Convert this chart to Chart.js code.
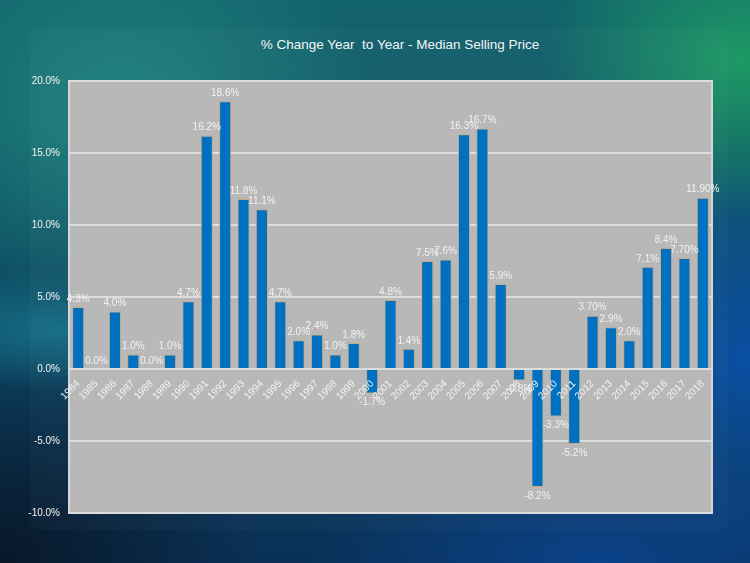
<!DOCTYPE html>
<html lang="en">
<head>
  <meta charset="UTF-8">
  <title>% Change Year to Year - Median Selling Price</title>
  <script src="https://cdn.jsdelivr.net/npm/chart.js"></script>
  <style>
    html, body { margin: 0; padding: 0; }
    body {
      width: 750px; height: 563px; overflow: hidden; position: relative;
      background:
        radial-gradient(ellipse 180px 60px at 60px 330px, rgba(30,150,170,0.5), rgba(30,150,170,0) 100%),
        radial-gradient(ellipse 260px 200px at 120px 110px, rgba(35,140,130,0.8), rgba(35,140,130,0) 100%),
        radial-gradient(ellipse 200px 160px at 740px 60px, rgba(30,160,100,0.9), rgba(30,160,100,0) 100%),
        radial-gradient(ellipse 160px 220px at 745px 360px, rgba(10,80,170,0.9), rgba(10,80,170,0) 100%),
        radial-gradient(ellipse 260px 200px at 0px 560px, rgba(8,22,38,0.95), rgba(8,22,38,0) 100%),
        radial-gradient(ellipse 300px 120px at 600px 560px, rgba(10,70,150,0.8), rgba(10,70,150,0) 100%),
        linear-gradient(180deg, #12626c 0%, #0e4f64 45%, #0b3a5a 75%, #0a3056 100%);
    }
    #frame {
      position: absolute; left: 30px; top: 28px; width: 698px; height: 502px;
      border-radius: 10px; background: rgba(255,255,255,0.025);
    }
    #title {
      position: absolute; left: 0; top: 37px; width: 800px; text-align: center;
      color: #f4f4f4; font: 13.5px "Liberation Sans", Arial, sans-serif;
    }
    canvas { position: absolute; left: 0; top: 0; }
  </style>
</head>
<body>
  <div id="frame"></div>
  <div id="title">% Change Year&nbsp; to Year - Median Selling Price</div>
  <canvas id="myChart" width="750" height="563"></canvas>

<script>
  const years = ['1984','1985','1986','1987','1988','1989','1990','1991','1992','1993',
    '1994','1995','1996','1997','1998','1999','2000','2001','2002','2003','2004','2005',
    '2006','2007','2008','2009','2010','2011','2012','2013','2014','2015','2016','2017','2018'];
  const changes = [4.3, 0.0, 4.0, 1.0, 0.0, 1.0, 4.7, 16.2, 18.6, 11.8,
    11.1, 4.7, 2.0, 2.4, 1.0, 1.8, -1.7, 4.8, 1.4, 7.5, 7.6, 16.3,
    16.7, 5.9, -0.8, -8.2, -3.3, -5.2, 3.7, 2.9, 2.0, 7.1, 8.4, 7.7, 11.9];
  const valueLabels = ['4.3%','0.0%','4.0%','1.0%','0.0%','1.0%','4.7%','16.2%','18.6%','11.8%',
    '11.1%','4.7%','2.0%','2.4%','1.0%','1.8%','-1.7%','4.8%','1.4%','7.5%','7.6%','16.3%',
    '16.7%','5.9%','-0.8%','-8.2%','-3.3%','-5.2%','3.70%','2.9%','2.0%','7.1%','8.4%','7.70%','11.90%'];
  const yTicks = [-10, -5, 0, 5, 10, 15, 20];

  const labelFont = '10px "Liberation Sans", Arial, sans-serif';

  // gray plot area with light frame
  const plotBackground = {
    id: 'plotBackground',
    beforeDraw(chart) {
      const { ctx, chartArea: a } = chart;
      ctx.save();
      ctx.fillStyle = '#b8b8b8';
      ctx.fillRect(a.left, a.top, a.right - a.left, a.bottom - a.top);
      ctx.strokeStyle = '#d6d6d6';
      ctx.lineWidth = 2;
      ctx.strokeRect(a.left, a.top, a.right - a.left, a.bottom - a.top);
      ctx.restore();
    }
  };

  // value labels at the end of each bar
  const barValues = {
    id: 'barValues',
    afterDatasetsDraw(chart) {
      const { ctx } = chart;
      const meta = chart.getDatasetMeta(0);
      ctx.save();
      ctx.font = labelFont;
      ctx.fillStyle = '#f2f2f2';
      ctx.textAlign = 'center';
      meta.data.forEach((bar, i) => {
        if (changes[i] < 0) {
          ctx.textBaseline = 'top';
          ctx.fillText(valueLabels[i], bar.x, bar.y + 4);
        } else {
          ctx.textBaseline = 'bottom';
          ctx.fillText(valueLabels[i], bar.x, bar.y - 3);
        }
      });
      ctx.restore();
    }
  };

  const ctx = document.getElementById('myChart').getContext('2d');
  new Chart(ctx, {
    type: 'bar',
    data: {
      labels: years,
      datasets: [{
        data: changes,
        backgroundColor: '#0070c0',
        borderColor: '#c9a882',
        borderWidth: 1,
        barPercentage: 0.66,
        categoryPercentage: 1.0
      }]
    },
    options: {
      responsive: false,
      devicePixelRatio: 1,
      animation: false,
      layout: { padding: { left: 0, right: 38, top: 81, bottom: 50 } },
      plugins: {
        legend: { display: false },
        tooltip: { enabled: false }
      },
      scales: {
        x: {
          position: { y: 0 },
          grid: { display: false },
          border: { display: false },
          ticks: {
            z: 1,
            color: '#f4f4f4',
            font: { size: 10, family: '"Liberation Sans", Arial, sans-serif' },
            minRotation: 45,
            maxRotation: 45,
            autoSkip: false,
            padding: 1
          }
        },
        y: {
          min: -10,
          max: 20,
          afterFit(scale) { scale.width = 69; },
          afterBuildTicks(scale) { scale.ticks = yTicks.map(v => ({ value: v })); },
          grid: { color: '#dcdcdc', lineWidth: 2, drawTicks: false },
          border: { display: false },
          ticks: {
            color: '#f4f4f4',
            font: { size: 10, family: '"Liberation Sans", Arial, sans-serif' },
            padding: 9,
            callback: v => v.toFixed(1) + '%'
          }
        }
      }
    },
    plugins: [plotBackground, barValues]
  });
</script>
</body>
</html>
